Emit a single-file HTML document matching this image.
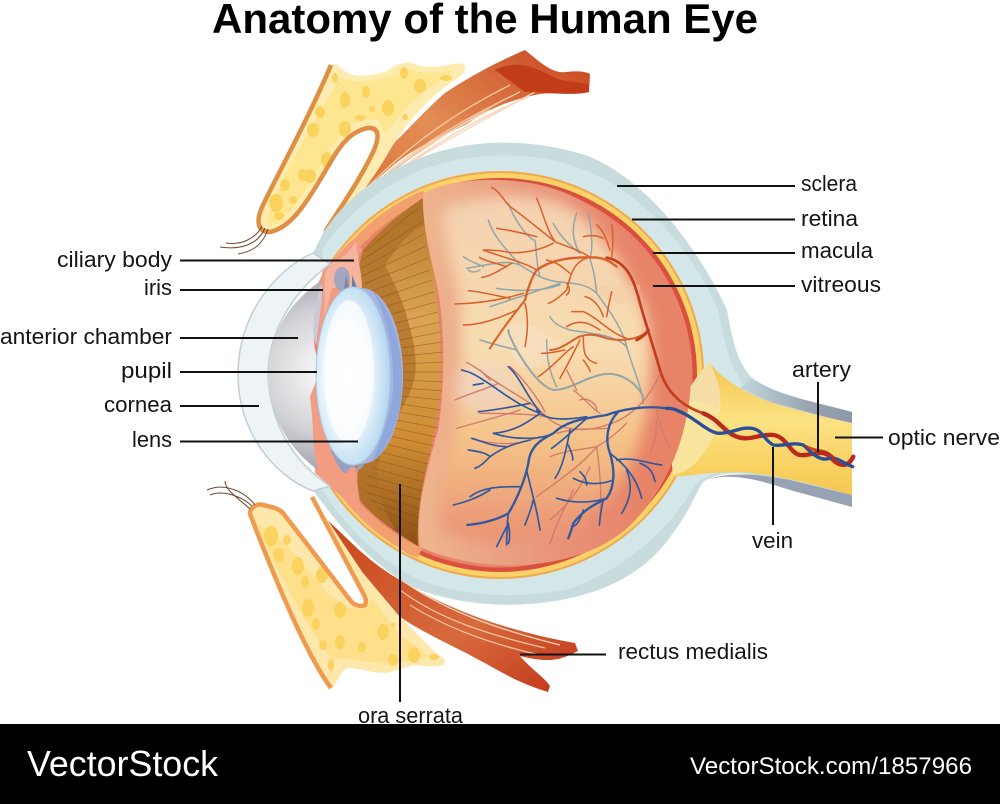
<!DOCTYPE html>
<html><head><meta charset="utf-8"><style>
html,body{margin:0;padding:0;background:#fff}
svg{display:block}
text{font-family:"Liberation Sans",sans-serif;fill:#151515}
</style></head><body>
<svg width="1000" height="804" viewBox="0 0 1000 804" xmlns="http://www.w3.org/2000/svg">
<defs>
<linearGradient id="vit0" gradientUnits="userSpaceOnUse" x1="425" y1="0" x2="640" y2="0"><stop offset="0" stop-color="#eeb48e"/><stop offset=".6" stop-color="#e9947a"/><stop offset="1" stop-color="#e78468"/></linearGradient>
<linearGradient id="vit2" x1="0" y1="0" x2="0" y2="1"><stop offset="0" stop-color="#f4d0b0"/><stop offset=".45" stop-color="#f8dcb0"/><stop offset=".72" stop-color="#f4c186"/><stop offset="1" stop-color="#ea9173"/></linearGradient>
<radialGradient id="lens" cx=".42" cy=".5" r=".55"><stop offset="0" stop-color="#fff"/><stop offset=".55" stop-color="#f2f9fe"/><stop offset="1" stop-color="#b9d9f0"/></radialGradient>
<radialGradient id="ant" gradientUnits="userSpaceOnUse" cx="325" cy="372" r="95"><stop offset="0" stop-color="#fbfbfb"/><stop offset=".6" stop-color="#d5d5d9"/><stop offset="1" stop-color="#a9a9b5"/></radialGradient>
<linearGradient id="brown" x1="0" y1="0" x2="0" y2="1"><stop offset="0" stop-color="#b5782a"/><stop offset=".35" stop-color="#dba452"/><stop offset=".7" stop-color="#cf8c34"/><stop offset="1" stop-color="#8a4f14"/></linearGradient>
<linearGradient id="nerve" x1="0" y1="0" x2="0" y2="1"><stop offset="0" stop-color="#f5c550"/><stop offset=".45" stop-color="#fbe282"/><stop offset="1" stop-color="#f6c74e"/></linearGradient>
<linearGradient id="mus1" x1="0" y1="1" x2="1" y2="0"><stop offset="0" stop-color="#d86a2a"/><stop offset=".5" stop-color="#e28d55"/><stop offset="1" stop-color="#c8431f"/></linearGradient>
<linearGradient id="mus2" x1="0" y1="0" x2="1" y2="1"><stop offset="0" stop-color="#c8471c"/><stop offset=".6" stop-color="#d76a3c"/><stop offset="1" stop-color="#c23418"/></linearGradient>
<linearGradient id="sheath" gradientUnits="userSpaceOnUse" x1="745" y1="0" x2="852" y2="0"><stop offset="0" stop-color="#c0d4d8"/><stop offset=".6" stop-color="#98a4b2"/><stop offset="1" stop-color="#8c97a8"/></linearGradient>
<filter id="bl" x="-20%" y="-20%" width="140%" height="140%"><feGaussianBlur stdDeviation="7"/></filter>
<clipPath id="vitclip"><path d="M423 194 C445 178 520 172 570 195 C630 222 680 290 690 350 C697 420 670 490 625 530 C580 568 490 578 420 547 C414 515 428 465 438 430 C445 385 445 330 438 290 C430 255 422 225 423 194Z"/></clipPath>
</defs>
<rect width="1000" height="804" fill="#fff"/>

<!-- Upper muscle -->
<path d="M325 232 C340 215 350 195 367 173 C378 160 388 148 400 137 C415 122 430 106 445 93 C465 80 490 65 525 50 C540 62 552 74 566 72 C575 71 585 71 590 74 L589 92 C575 96 555 92 540 94 C510 100 490 108 467 124 C445 135 420 145 400 160 C380 175 350 205 325 232Z" fill="url(#mus1)"/>
<g fill="none" stroke-width="1.4"><path stroke="#f6c79f" d="M345 214 C385 170 430 135 520 92"/><path stroke="#f8d6b8" d="M352 208 C395 170 450 130 530 96"/><path stroke="#f6c79f" d="M340 218 C378 172 430 125 510 85"/><path stroke="#f8d6b8" d="M360 200 C400 165 455 135 535 92"/><path stroke="#f3b88c" d="M375 185 C410 155 460 125 500 102"/><path stroke="#f8d6b8" d="M390 170 C420 148 460 125 490 110"/></g>
<path d="M495 70 C520 58 535 68 560 80 L589 84 L589 92 C570 96 545 92 525 92Z" fill="#c23c18"/>

<!-- Upper lid -->
<path d="M331 65 L336 64 L347 73 C360 78 372 75 385 72 C395 65 405 60 415 64 C430 70 445 65 460 63 C468 65 466 72 458 78 C430 95 405 125 390 150 C370 185 345 215 325 232 C342 205 360 180 374 150 C379 138 380 127 368 128 C345 132 335 155 320 180 C305 205 290 228 270 232 C258 232 255 222 263 205 C280 170 310 115 331 65Z" fill="#fdebb0"/>
<path d="M340 78 C360 85 385 80 410 70 C425 75 445 72 455 70 C425 90 400 110 385 135 L378 120 C350 115 335 140 315 175 C300 200 285 222 270 226 C265 222 268 212 272 203 C295 150 325 105 340 78Z" fill="#fee58f"/>
<g fill="#fad25e"><ellipse cx="345" cy="100" rx="5" ry="8"/><ellipse cx="366" cy="92" rx="4" ry="6"/><ellipse cx="404" cy="73" rx="4" ry="6"/><ellipse cx="420" cy="86" rx="6" ry="7"/><ellipse cx="388" cy="108" rx="6" ry="8"/><ellipse cx="446" cy="78" rx="6" ry="3"/><ellipse cx="335" cy="78" rx="3" ry="5"/><ellipse cx="320" cy="112" rx="5" ry="6"/><ellipse cx="313" cy="130" rx="6" ry="7"/><ellipse cx="345" cy="129" rx="6" ry="8"/><ellipse cx="327" cy="160" rx="6" ry="8"/><ellipse cx="310" cy="176" rx="6" ry="7"/><ellipse cx="303" cy="175" rx="5" ry="6"/><ellipse cx="285" cy="185" rx="5" ry="6"/><ellipse cx="276" cy="203" rx="7" ry="9"/><ellipse cx="293" cy="200" rx="4" ry="4"/><ellipse cx="279" cy="216" rx="5" ry="4"/><ellipse cx="360" cy="118" rx="5" ry="3"/><ellipse cx="405" cy="117" rx="3" ry="3"/><ellipse cx="372" cy="109" rx="3" ry="3"/></g>
<path d="M331 65 C310 115 280 170 263 205 C255 222 258 232 270 232 C290 228 305 205 320 180 C335 155 345 132 368 128 C380 127 379 138 374 150 C360 180 342 205 325 232" fill="none" stroke="#df8f44" stroke-width="4.500"/>
<g fill="none" stroke="#6d4a32" stroke-width="1"><path d="M262 226 C255 240 240 245 226 243"/><path d="M265 228 C258 245 240 250 220 247"/><path d="M268 229 C262 247 250 252 238 254"/></g>

<!-- Lower muscle -->
<path d="M327 520 C345 535 365 560 400 580 C440 605 500 630 575 643 L578 651 C565 657 555 665 520 656 C530 668 545 678 550 686 L548 692 C510 680 500 670 460 650 C430 635 415 627 400 617 C375 595 340 555 327 520Z" fill="url(#mus2)"/>
<g fill="none" stroke-width="1.3"><path stroke="#f2c0a0" d="M400 590 C440 620 490 635 545 648"/><path stroke="#f2c0a0" d="M410 605 C450 630 495 645 540 655"/><path stroke="#f6d2b8" d="M395 575 C440 610 500 630 560 645"/></g>

<!-- Lower lid -->
<path d="M248 513 C250 505 258 502 263 503 C270 505 276 506 283 513 L317 557 L350 600 C354 606 362 607 365 605 C367 600 365 597 363 593 L347 563 L312 497 L363 573 L400 617 L433 650 L445 660 C445 664 443 665 443 665 C430 668 420 665 413 665 L387 673 C370 673 360 668 347 668 C340 672 338 680 333 688 L330 688 C310 660 283 600 283 600Z" fill="#fde7ab"/>
<path d="M258 525 C275 530 300 560 325 590 C345 612 365 615 372 598 L400 635 C420 650 430 655 425 658 C405 660 395 665 370 662 C350 660 345 655 332 660 C310 630 275 570 258 525Z" fill="#fee08b"/>
<g fill="#fad25e"><ellipse cx="271" cy="536" rx="7" ry="10"/><ellipse cx="279" cy="555" rx="5" ry="7"/><ellipse cx="298" cy="566" rx="6" ry="9"/><ellipse cx="287" cy="540" rx="4" ry="5"/><ellipse cx="305" cy="582" rx="4" ry="6"/><ellipse cx="322" cy="575" rx="6" ry="8"/><ellipse cx="308" cy="608" rx="6" ry="9"/><ellipse cx="316" cy="624" rx="4" ry="6"/><ellipse cx="340" cy="610" rx="6" ry="8"/><ellipse cx="340" cy="642" rx="5" ry="7"/><ellipse cx="323" cy="645" rx="4" ry="5"/><ellipse cx="331" cy="665" rx="3" ry="6"/><ellipse cx="362" cy="647" rx="4" ry="5"/><ellipse cx="383" cy="632" rx="6" ry="8"/><ellipse cx="414" cy="655" rx="6" ry="8"/><ellipse cx="434" cy="657" rx="5" ry="3"/><ellipse cx="393" cy="625" rx="2" ry="2"/><ellipse cx="393" cy="660" rx="5" ry="6"/></g>
<path d="M331 688 C310 660 283 600 250 514 C250 507 258 503 263 505 C272 507 278 508 283 513 L317 557 L350 600 C354 606 362 607 365 605 C367 600 365 597 363 593 L347 563 L312 497" fill="none" stroke="#ef9a4e" stroke-width="4.500"/>
<g fill="none" stroke="#6d4a32" stroke-width="1"><path d="M255 505 C245 492 225 482 207 490"/><path d="M252 506 C240 495 222 490 210 495"/><path d="M250 509 C238 498 225 490 225 481"/></g>

<!-- Sclera + optic sheath -->
<path d="M313 253 L323 233 C345 200 375 175 420 158 C470 138 530 138 585 155 C640 175 695 240 727 310 C732 335 735 360 752 378 C775 395 815 402 852 412 L852 507 C815 495 775 482 745 474 C725 472 712 476 703 482 C695 495 690 510 673 533 C655 560 625 585 575 597 C520 610 465 606 420 590 C380 572 345 535 313 490 L330 480 L330 265Z" fill="#c8dcde"/>
<path d="M322 250 C345 215 385 182 430 167 C485 150 540 152 585 170 C640 192 690 245 718 310 C724 340 730 370 748 390 L748 472 C720 468 702 474 692 490 C665 535 620 572 565 590 C510 600 460 595 420 580 C380 562 345 525 322 490Z" fill="#d3e6e8"/>
<path d="M752 378 C775 395 815 402 852 412 L852 424 L770 402 L740 388Z" fill="url(#sheath)"/>
<path d="M707 480 C730 470 770 476 790 480 L852 495 L852 507 L790 490 C760 480 730 472 707 480Z" fill="#97a3b4"/>

<!-- Globe layers -->
<circle cx="500" cy="375" r="204" fill="#f0a950"/>
<circle cx="500" cy="375" r="202" fill="#fad268"/>
<circle cx="500" cy="375" r="197" fill="#d9503f"/>
<circle cx="500" cy="375" r="192.500" fill="#e8826a"/>
<path d="M425 195 A195.500 195.500 0 0 0 420 553" fill="none" stroke="#f2a06e" stroke-width="10"/>

<!-- Optic nerve -->
<path d="M709 362 C720 378 745 393 770 402 C800 412 830 418 852 423 L852 495 C815 484 770 474 740 472 C715 472 695 475 673 477 L690 420Z" fill="url(#nerve)"/>
<path d="M709 362 C722 385 725 410 712 440 C700 460 690 472 673 475 C670 450 672 435 682 403 C690 385 700 372 709 362Z" fill="#f9e49e"/>
<path d="M709 364 C720 380 722 398 717 410 C705 400 692 400 682 403 C690 385 700 372 709 364Z" fill="#f6dda8"/>

<!-- Ciliary brown -->
<path d="M363 250 C385 225 405 210 423 198 C426 240 441 290 441 370 C441 440 415 480 418 546 C395 532 375 518 360 500 L355 470 L345 320Z" fill="url(#brown)"/>
<path d="M363 250 C385 225 405 210 423 198 L425 225 C410 230 395 250 385 265 C395 285 400 295 405 310 C410 330 418 350 415 375 C412 395 400 410 392 425 C385 450 375 460 378 480 C375 495 385 510 395 530 C380 520 370 510 360 500 L345 320Z" fill="#b0702a" opacity=".75"/>
<g stroke="#6f4a1e" stroke-width=".7" fill="none" opacity=".5">
<path d="M364 252 L418 208"/><path d="M362 260 L422 222"/><path d="M362 268 L424 234"/><path d="M362 276 L426 246"/><path d="M364 284 L428 258"/><path d="M368 292 L430 270"/><path d="M374 300 L432 280"/><path d="M380 308 L434 292"/><path d="M385 316 L436 302"/><path d="M392 324 L438 312"/><path d="M396 332 L440 322"/><path d="M400 340 L441 332"/><path d="M402 348 L442 342"/><path d="M402 356 L443 352"/><path d="M403 364 L443 362"/><path d="M403 372 L443 372"/><path d="M403 380 L443 382"/><path d="M403 388 L443 391"/><path d="M402 396 L442 400"/><path d="M400 404 L441 410"/><path d="M398 412 L440 419"/><path d="M396 420 L438 428"/><path d="M394 428 L436 437"/><path d="M390 436 L434 446"/><path d="M385 444 L431 455"/><path d="M380 452 L428 464"/><path d="M376 460 L425 473"/><path d="M372 468 L424 482"/><path d="M368 476 L422 491"/><path d="M366 484 L421 500"/><path d="M366 492 L420 509"/><path d="M370 500 L420 518"/><path d="M378 508 L420 527"/></g>

<!-- Vitreous -->
<path d="M423 194 C445 178 520 172 570 195 C630 222 680 290 690 350 C697 420 670 490 625 530 C580 568 490 578 420 547 C414 515 428 465 438 430 C445 385 445 330 438 290 C430 255 422 225 423 194Z" fill="url(#vit0)"/>
<g clip-path="url(#vitclip)"><path filter="url(#bl)" d="M442 210 C470 195 525 190 565 205 C600 225 625 270 645 310 C660 380 645 450 615 490 C580 535 500 555 442 530 C436 505 448 465 456 430 C462 385 462 330 458 290 C448 255 442 225 442 210Z" fill="url(#vit2)"/></g>
<path d="M590 285 L640 285 C640 310 625 305 605 300Z" fill="#f6cba8" opacity=".4"/>
<path d="M510 325 C530 315 545 335 560 345 C545 370 520 380 510 350 C495 350 490 345 510 325Z" fill="#f8e4d0" opacity=".4"/>
<ellipse cx="485" cy="388" rx="32" ry="24" fill="#eed8d8" opacity=".45" filter="url(#bl)"/>

<!-- Vessels: in zoom coordinates -->
<g transform="translate(440,170) scale(.33333)" fill="none" stroke-linecap="round">
<g stroke="#92a6a8" stroke-width="4.500">
<path d="M610 700 C605 650 580 600 560 530 C545 470 500 410 470 370 C440 340 400 340 350 335 C310 330 280 310 240 285 C200 270 160 280 80 295"/>
<path d="M610 680 C590 640 540 600 480 615 C430 625 390 660 340 660 C300 650 260 590 230 540 C215 510 205 490 205 480" stroke-width="6"/>
<path d="M360 340 C300 360 240 380 150 410"/><path d="M360 345 C300 365 240 365 170 355"/>
<path d="M130 290 C110 280 90 275 70 260"/><path d="M120 300 C100 310 90 305 85 300"/>
<path d="M240 285 C200 240 160 200 145 150"/><path d="M280 210 C250 190 220 140 205 100"/>
<path d="M285 210 C290 250 290 290 300 320"/><path d="M420 250 C395 210 395 170 410 130"/><path d="M420 250 C380 220 355 190 340 160"/><path d="M450 265 C460 230 455 180 445 130"/>
<path d="M450 265 C460 300 465 320 470 370"/>
<path d="M560 530 C520 490 440 490 390 480 C360 470 340 460 330 440"/>
<path d="M350 650 C330 610 320 570 320 510"/><path d="M230 540 C190 530 150 520 120 510"/>
</g>
<g stroke="#d9612b" stroke-width="4.500">
<path d="M530 290 C500 265 480 262 450 262 C400 262 340 265 290 300 C270 330 260 370 255 390" stroke-width="7"/>
<path d="M255 390 C225 430 190 470 150 535" stroke-width="6"/><path d="M230 420 C180 445 120 465 70 465"/><path d="M255 400 C265 440 265 480 255 530"/>
<path d="M250 370 C200 385 130 400 45 402"/><path d="M210 385 C160 375 120 365 85 362"/>
<path d="M290 300 C250 275 180 260 130 240"/><path d="M215 280 C180 300 150 320 125 322"/><path d="M200 290 C170 280 140 275 118 262"/>
<path d="M450 262 C420 240 380 230 345 215 C320 180 310 130 290 85"/><path d="M345 215 C300 180 240 130 210 110 C190 90 180 65 155 52"/>
<path d="M340 220 C300 240 260 250 210 248 C180 240 150 240 130 240"/><path d="M290 200 C250 190 210 180 170 175"/>
<path d="M450 262 C400 270 390 320 380 360 C360 380 340 395 325 400"/><path d="M390 310 C370 295 360 280 320 270"/><path d="M380 340 C395 360 385 370 380 375"/>
<path d="M515 260 C520 230 520 190 515 165"/><path d="M510 240 C500 210 490 180 470 165"/><path d="M490 205 C470 195 450 195 430 200"/>
<path d="M625 480 C600 510 540 515 500 505 C460 490 430 490 400 510 C370 530 350 540 330 540" stroke-width="6"/>
<path d="M560 505 C510 490 470 440 430 425 L395 425"/><path d="M480 480 C450 460 420 445 380 470"/><path d="M500 440 C505 410 510 385 515 365"/><path d="M490 440 C480 410 460 385 435 380"/>
<path d="M420 510 C400 550 380 590 360 625"/><path d="M400 530 C370 550 340 590 295 620"/><path d="M430 500 C430 540 430 570 470 580"/><path d="M430 570 C445 590 450 600 450 605"/><path d="M375 540 C350 545 330 550 305 550"/>
</g>
<path d="M790 730 C730 710 680 670 660 600 C640 530 620 470 600 400 C585 340 565 275 500 263" stroke="#c23f1e" stroke-width="8"/>
<path d="M1240 860 C1220 900 1190 885 1170 860 C1145 835 1110 860 1080 855 C1050 850 1040 800 1000 795 C960 790 930 815 890 800 C850 785 840 750 790 730" stroke="#b92a1c" stroke-width="13"/>
<path d="M625 480 C618 490 610 500 590 510" stroke="#c23f1e" stroke-width="9"/>
<g stroke="#d27a6b" stroke-width="4">
<path d="M660 610 C640 660 590 740 500 765 C430 790 360 780 320 740 C280 700 220 670 175 640 C140 620 110 590 80 578"/>
<path d="M175 640 C130 660 90 670 45 690"/><path d="M120 600 C130 610 140 620 150 630"/><path d="M210 590 C250 625 290 680 315 725"/>
<path d="M320 740 C290 735 220 730 120 730"/><path d="M240 720 C180 740 120 755 50 775"/>
<path d="M500 775 C460 780 420 770 350 790"/><path d="M300 800 C250 820 200 830 110 810"/>
<path d="M650 720 C660 780 680 810 690 840"/><path d="M650 750 C650 800 640 830 630 850"/>
<path d="M470 830 C430 880 360 930 290 980"/><path d="M470 830 C480 900 485 980 480 1040"/><path d="M450 890 C420 960 380 1010 330 1050"/><path d="M400 960 C370 1020 350 1060 330 1120"/>
<path d="M560 760 C530 790 490 820 470 830"/><path d="M330 860 C380 840 420 840 470 830"/><path d="M420 690 C440 680 470 700 470 720"/><path d="M400 660 C440 690 460 720 480 730"/>
<path d="M380 600 C390 620 400 640 410 660"/>
</g>
<g stroke="#31589f" stroke-width="5">
<path d="M680 715 C610 705 540 720 500 735 C440 745 380 750 340 790 C300 810 270 830 265 880 C255 930 230 990 205 1030 C170 1050 130 1060 82 1065" stroke-width="7"/>
<path d="M205 1030 C200 1070 200 1100 200 1125"/><path d="M205 1060 C190 1090 180 1110 170 1130"/><path d="M205 1060 C210 1090 210 1110 205 1120"/>
<path d="M260 900 C270 950 290 1010 300 1080"/><path d="M280 990 C270 1030 260 1050 255 1065"/><path d="M240 950 C180 950 130 950 90 980"/><path d="M150 960 C110 985 80 995 40 1005"/>
<path d="M340 790 C300 810 220 810 160 790"/><path d="M270 810 C230 820 190 830 150 860 C130 880 120 890 105 895"/><path d="M200 830 C160 830 130 815 95 805"/><path d="M150 860 C140 850 120 845 85 840"/>
<path d="M440 745 C400 780 370 810 335 835"/><path d="M390 780 C380 830 370 890 345 925"/><path d="M385 825 C395 850 400 860 398 870"/>
<path d="M535 725 C500 760 495 810 510 850 C525 900 525 950 500 985 C460 1005 430 1020 400 1060 C395 1080 390 1090 385 1105" stroke-width="7"/>
<path d="M510 850 C550 880 590 920 605 985"/><path d="M560 900 C580 950 570 990 545 1030"/><path d="M530 870 C580 860 620 880 665 885"/><path d="M600 880 C630 890 640 910 645 935"/>
<path d="M520 930 C480 945 440 945 400 925"/><path d="M440 945 C440 930 435 920 420 905"/><path d="M500 985 C450 1000 400 1000 350 985"/><path d="M430 1020 C420 1050 410 1070 395 1070"/><path d="M490 990 C480 1030 480 1050 478 1065"/>
<path d="M290 720 C310 745 350 755 440 740"/><path d="M300 725 C260 680 240 620 205 590"/><path d="M300 730 C220 700 180 660 130 630 C100 610 85 605 65 600"/><path d="M270 700 C220 710 170 720 115 725"/><path d="M300 730 C260 760 220 785 160 790"/>
<path d="M130 640 L100 645"/>
</g>
<path d="M1238 890 C1210 880 1190 860 1170 865 C1140 875 1115 850 1090 825 C1060 815 1030 830 1000 825 C970 810 970 780 935 775 C900 770 880 790 835 790 C800 785 760 740 720 725 C700 715 690 715 680 715" stroke="#2a4f99" stroke-width="10"/>
<path d="M1100 830 C1130 850 1160 830 1190 875" stroke="#b92a1c" stroke-width="9" opacity=".85"/>
</g>

<!-- Iris / ciliary pink -->
<path d="M355 238 C345 245 335 260 323 270 C318 290 306 310 310 322 C316 340 320 350 317 357 L312 375 L310 397 C310 420 314 445 315 473 C335 490 355 510 375 530 L420 560 C395 548 375 530 360 505 C358 490 356 478 358 470 L345 460 L345 320 C345 300 350 275 362 250Z" fill="#f29c82"/>
<path d="M325 272 L333 262 C345 258 355 245 356 240 C357 255 362 275 362 288 L332 288 L324 318Z" fill="#f5b49d"/>
<path d="M322 283 C312 305 308 325 316 345 L322 300Z" fill="#c9c9d8"/>
<ellipse cx="342" cy="279" rx="8" ry="12" fill="#a4a5bf"/><path d="M346 275 L350 290 L344 290Z" fill="#7c86a8"/><path d="M352 275 L358 290 L352 290Z" fill="#6b7ea8"/>
<path d="M330 450 C340 470 345 480 350 468 L358 465 L355 472 L362 468 L365 462 L345 455Z" fill="#98a0bf"/>

<!-- Cornea & anterior -->
<path d="M313 253 C275 270 238 315 238 375 C238 430 272 475 313 491 L330 486 C290 460 270 420 268 375 C268 330 295 290 330 264Z" fill="#eef4f5" stroke="#bed0d3" stroke-width="1.500"/>
<path d="M322 280 C285 305 268 340 268 375 C268 415 290 450 318 470 C312 450 314 425 310 397 C314 385 322 372 317 357 C310 335 314 305 322 280Z" fill="url(#ant)"/>

<!-- Lens -->
<ellipse cx="362" cy="376" rx="41" ry="88" fill="#a7b4e0"/>
<path d="M372 290 C392 310 402 345 402 380 C402 420 388 450 372 462 C385 430 395 400 393 375 C392 340 385 310 372 290Z" fill="#8fa8dc"/>
<ellipse cx="353" cy="376" rx="37" ry="89" fill="url(#lens)" stroke="#a4c8e8" stroke-width="1"/>
<ellipse cx="349" cy="372" rx="25" ry="72" fill="#ffffff" opacity=".65"/>

<!-- Leader lines -->
<g stroke="#111" stroke-width="2" fill="none">
<path d="M617 186H795M632 219.500H795M653 253H795M653 286H795"/>
<path d="M180 260.500H354M180 290H323M180 338H298M180 372H317M180 406H259M180 441.500H358"/>
<path d="M818 382V452M773 447V525M835 437.500H883M400 484V702M520 654.500H606"/>
</g>

<!-- Labels -->
<text x="485" y="33" text-anchor="middle" font-size="42" font-weight="700" style="fill:#000" textLength="546" lengthAdjust="spacingAndGlyphs">Anatomy of the Human Eye</text>
<g font-size="22">
<text x="57" y="267" textLength="115" lengthAdjust="spacingAndGlyphs">ciliary body</text>
<text x="144" y="295" textLength="28" lengthAdjust="spacingAndGlyphs">iris</text>
<text x="0" y="344" textLength="172" lengthAdjust="spacingAndGlyphs">anterior chamber</text>
<text x="121" y="378" textLength="51" lengthAdjust="spacingAndGlyphs">pupil</text>
<text x="104" y="412" textLength="68" lengthAdjust="spacingAndGlyphs">cornea</text>
<text x="132" y="447" textLength="40" lengthAdjust="spacingAndGlyphs">lens</text>
<text x="801" y="191" textLength="56" lengthAdjust="spacingAndGlyphs">sclera</text>
<text x="801" y="226" textLength="57" lengthAdjust="spacingAndGlyphs">retina</text>
<text x="801" y="258" textLength="72" lengthAdjust="spacingAndGlyphs">macula</text>
<text x="801" y="292" textLength="80" lengthAdjust="spacingAndGlyphs">vitreous</text>
<text x="792" y="377" textLength="59" lengthAdjust="spacingAndGlyphs">artery</text>
<text x="888" y="445" textLength="112" lengthAdjust="spacingAndGlyphs">optic nerve</text>
<text x="752" y="548" textLength="41" lengthAdjust="spacingAndGlyphs">vein</text>
<text x="618" y="659" textLength="150" lengthAdjust="spacingAndGlyphs">rectus medialis</text>
<text x="358" y="723" textLength="105" lengthAdjust="spacingAndGlyphs">ora serrata</text>
</g>

<!-- Footer -->
<rect x="0" y="724" width="1000" height="80" fill="#000"/>
<text x="27" y="776" font-size="36" style="fill:#fff" textLength="191" lengthAdjust="spacingAndGlyphs">VectorStock</text>
<text x="690" y="774" font-size="24" style="fill:#fff" textLength="282" lengthAdjust="spacingAndGlyphs">VectorStock.com/1857966</text>
</svg>
</body></html>
